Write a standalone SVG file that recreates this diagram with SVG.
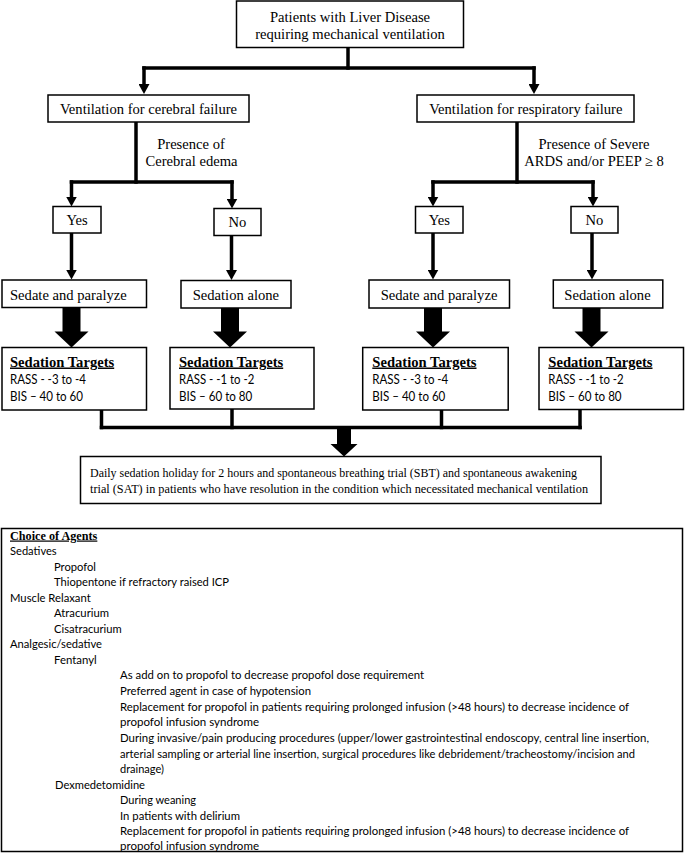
<svg xmlns="http://www.w3.org/2000/svg" xmlns:xlink="http://www.w3.org/1999/xlink" width="685" height="853" viewBox="0 0 685 853">
<defs>
<style>
.box{fill:#fff;stroke:#000;stroke-width:1.5}
.ln{fill:none;stroke:#000;stroke-width:3.5;stroke-linecap:square}
.arr{marker-end:url(#ah)}
.sf{font-family:"Liberation Serif","Times New Roman",serif;font-size:14.6px;fill:#000}
.c{text-anchor:middle}
.tt{font-family:"Liberation Serif","Times New Roman",serif;font-size:14.6px;font-weight:bold;text-decoration:underline;fill:#000}
.cs{font-family:Lato,"Liberation Sans",sans-serif;font-size:13px;fill:#000}
.ss{font-family:Lato,"Liberation Sans",sans-serif;font-size:12px;fill:#000}
.bt{font-family:"Liberation Serif","Times New Roman",serif;font-size:12px;fill:#000}
.ch{font-family:"Liberation Serif","Times New Roman",serif;font-size:12.2px;font-weight:bold;text-decoration:underline;fill:#000}
</style>
<marker id="ah" markerUnits="userSpaceOnUse" viewBox="0 0 10 11" markerWidth="10" markerHeight="11" refX="0" refY="5.5" orient="auto">
<path d="M0,0 L10,5.5 L0,11 z" fill="#000"/>
</marker>
<path id="blk" d="M-9,0 H9 V23.5 H17 L0,39.5 L-17,23.5 H-9 Z" fill="#000"/>
</defs>

<g id="connectors">
<path class="ln" d="M348,48 V68"/>
<path class="ln" d="M144,68 H534"/>
<path class="ln arr" d="M144,68 V84"/>
<path class="ln arr" d="M534,68 V84"/>
<path class="ln" d="M136,122 V182"/>
<path class="ln" d="M71.5,182 H232"/>
<path class="ln arr" d="M71.5,182 V196.5"/>
<path class="ln arr" d="M232,182 V198.5"/>
<path class="ln" d="M517,122 V182"/>
<path class="ln" d="M433,182 H593"/>
<path class="ln arr" d="M433,182 V196.5"/>
<path class="ln arr" d="M593,182 V196.5"/>
<path class="ln arr" d="M71.5,233 V269.5"/>
<path class="ln arr" d="M231.5,236 V270"/>
<path class="ln arr" d="M433,233 V269.5"/>
<path class="ln arr" d="M592,233 V269.5"/>
<use xlink:href="#blk" href="#blk" x="71.5" y="308"/>
<use xlink:href="#blk" href="#blk" x="230" y="308"/>
<use xlink:href="#blk" href="#blk" x="433" y="308"/>
<use xlink:href="#blk" href="#blk" x="591.5" y="308"/>
<path class="ln" d="M101.5,410 V427.5"/>
<path class="ln" d="M232,409 V427.5"/>
<path class="ln" d="M441.5,410 V427.5"/>
<path class="ln" d="M580,409.5 V427.5"/>
<path class="ln" d="M101.5,427.5 H580"/>
<path d="M337,428 H351 V444 H357.5 L344,456.5 L330.5,444 H337 Z" fill="#000"/>
</g>

<g id="n-start">
<rect class="box" x="236.5" y="1" width="227" height="46.5"/>
<text class="sf c" x="350" y="21.5">Patients with Liver Disease</text>
<text class="sf c" x="350" y="38.5">requiring mechanical ventilation</text>
</g>

<g id="n-cerebral">
<rect class="box" x="48" y="95" width="201" height="27"/>
<text class="sf c" x="148.5" y="113.5">Ventilation for cerebral failure</text>
</g>
<g id="n-respiratory">
<rect class="box" x="417" y="95" width="217" height="27"/>
<text class="sf c" x="525.8" y="113.5">Ventilation for respiratory failure</text>
</g>

<g id="lbl-cerebral">
<text class="sf c" x="191" y="149">Presence of</text>
<text class="sf c" x="191.5" y="166">Cerebral edema</text>
</g>
<g id="lbl-respiratory">
<text class="sf c" x="594" y="149">Presence of Severe</text>
<text class="sf c" x="594" y="166">ARDS and/or PEEP ≥ 8</text>
</g>

<g id="n-yes1">
<rect class="box" x="53" y="206.5" width="48" height="26.5"/>
<text class="sf c" x="77" y="224.5">Yes</text>
</g>
<g id="n-no1">
<rect class="box" x="214" y="208.5" width="47" height="27"/>
<text class="sf c" x="237.5" y="227">No</text>
</g>
<g id="n-yes2">
<rect class="box" x="415.5" y="206.5" width="47.5" height="26.5"/>
<text class="sf c" x="439.3" y="224.5">Yes</text>
</g>
<g id="n-no2">
<rect class="box" x="571" y="206.5" width="47" height="26.5"/>
<text class="sf c" x="594.5" y="224.5">No</text>
</g>

<g id="n-sp1">
<rect class="box" x="2" y="280" width="144.5" height="27.5"/>
<text class="sf" x="10" y="299.5">Sedate and paralyze</text>
</g>
<g id="n-sa1">
<rect class="box" x="181" y="280.5" width="110" height="27.5"/>
<text class="sf" x="192.7" y="299.5">Sedation alone</text>
</g>
<g id="n-sp2">
<rect class="box" x="369" y="280" width="140.5" height="28"/>
<text class="sf" x="380.7" y="299.5">Sedate and paralyze</text>
</g>
<g id="n-sa2">
<rect class="box" x="553.3" y="280" width="109.5" height="28"/>
<text class="sf" x="564.3" y="299.5">Sedation alone</text>
</g>

<g id="n-t1">
<rect class="box" x="2" y="347.5" width="144.5" height="62.5"/>
<text class="tt" x="10" y="366.5">Sedation Targets</text>
<text class="cs" x="10" y="384" textLength="76" lengthAdjust="spacingAndGlyphs">RASS - -3 to -4</text>
<text class="cs" x="10" y="400.5" textLength="73" lengthAdjust="spacingAndGlyphs">BIS – 40 to 60</text>
</g>
<g id="n-t2">
<rect class="box" x="170" y="347.5" width="144" height="61.5"/>
<text class="tt" x="179" y="366.5">Sedation Targets</text>
<text class="cs" x="179" y="384" textLength="75.3" lengthAdjust="spacingAndGlyphs">RASS - -1 to -2</text>
<text class="cs" x="179" y="400.5" textLength="73.3" lengthAdjust="spacingAndGlyphs">BIS – 60 to 80</text>
</g>
<g id="n-t3">
<rect class="box" x="362.7" y="347.5" width="145.5" height="62.5"/>
<text class="tt" x="372.3" y="366.5">Sedation Targets</text>
<text class="cs" x="372.3" y="384" textLength="76" lengthAdjust="spacingAndGlyphs">RASS - -3 to -4</text>
<text class="cs" x="372.3" y="400.5" textLength="73" lengthAdjust="spacingAndGlyphs">BIS – 40 to 60</text>
</g>
<g id="n-t4">
<rect class="box" x="539" y="347.5" width="144.5" height="62"/>
<text class="tt" x="548.3" y="366.5">Sedation Targets</text>
<text class="cs" x="548.3" y="384" textLength="75.3" lengthAdjust="spacingAndGlyphs">RASS - -1 to -2</text>
<text class="cs" x="548.3" y="400.5" textLength="73.3" lengthAdjust="spacingAndGlyphs">BIS – 60 to 80</text>
</g>

<g id="n-holiday">
<rect class="box" x="80.5" y="456.5" width="520.5" height="47"/>
<text class="bt" x="90" y="477" textLength="487" lengthAdjust="spacingAndGlyphs">Daily sedation holiday for 2 hours and spontaneous breathing trial (SBT) and spontaneous awakening</text>
<text class="bt" x="90" y="492.5" textLength="498" lengthAdjust="spacingAndGlyphs">trial (SAT) in patients who have resolution in the condition which necessitated mechanical ventilation</text>
</g>

<g id="n-agents">
<rect class="box" x="1.5" y="528.5" width="681" height="323"/>
<text class="ch" x="10" y="539.5">Choice of Agents</text>
<text class="ss" x="10" y="555" textLength="46.7" lengthAdjust="spacingAndGlyphs">Sedatives</text>
<text class="ss" x="54" y="570.5" textLength="42" lengthAdjust="spacingAndGlyphs">Propofol</text>
<text class="ss" x="54" y="586" textLength="175" lengthAdjust="spacingAndGlyphs">Thiopentone if refractory raised ICP</text>
<text class="ss" x="10" y="601.5" textLength="80.7" lengthAdjust="spacingAndGlyphs">Muscle Relaxant</text>
<text class="ss" x="54" y="617" textLength="55" lengthAdjust="spacingAndGlyphs">Atracurium</text>
<text class="ss" x="54" y="632.5" textLength="67.7" lengthAdjust="spacingAndGlyphs">Cisatracurium</text>
<text class="ss" x="10" y="648" textLength="92" lengthAdjust="spacingAndGlyphs">Analgesic/sedative</text>
<text class="ss" x="54" y="663.5" textLength="42.7" lengthAdjust="spacingAndGlyphs">Fentanyl</text>
<text class="ss" x="120" y="679" textLength="304" lengthAdjust="spacingAndGlyphs">As add on to propofol to decrease propofol dose requirement</text>
<text class="ss" x="120" y="694.5" textLength="191" lengthAdjust="spacingAndGlyphs">Preferred agent in case of hypotension</text>
<text class="ss" x="120" y="710.5" textLength="509" lengthAdjust="spacingAndGlyphs">Replacement for propofol in patients requiring prolonged infusion (&gt;48 hours) to decrease incidence of</text>
<text class="ss" x="120" y="726" textLength="139" lengthAdjust="spacingAndGlyphs">propofol infusion syndrome</text>
<text class="ss" x="120" y="741.5" textLength="529" lengthAdjust="spacingAndGlyphs">During invasive/pain producing procedures (upper/lower gastrointestinal endoscopy, central line insertion,</text>
<text class="ss" x="120" y="757.5" textLength="515" lengthAdjust="spacingAndGlyphs">arterial sampling or arterial line insertion, surgical procedures like debridement/tracheostomy/incision and</text>
<text class="ss" x="120" y="773" textLength="44" lengthAdjust="spacingAndGlyphs">drainage)</text>
<text class="ss" x="55" y="788.5" textLength="90" lengthAdjust="spacingAndGlyphs">Dexmedetomidine</text>
<text class="ss" x="120" y="804" textLength="76" lengthAdjust="spacingAndGlyphs">During weaning</text>
<text class="ss" x="120" y="819.5" textLength="120" lengthAdjust="spacingAndGlyphs">In patients with delirium</text>
<text class="ss" x="120" y="835" textLength="509" lengthAdjust="spacingAndGlyphs">Replacement for propofol in patients requiring prolonged infusion (&gt;48 hours) to decrease incidence of</text>
<text class="ss" x="120" y="850" textLength="139" lengthAdjust="spacingAndGlyphs">propofol infusion syndrome</text>
</g>
</svg>
